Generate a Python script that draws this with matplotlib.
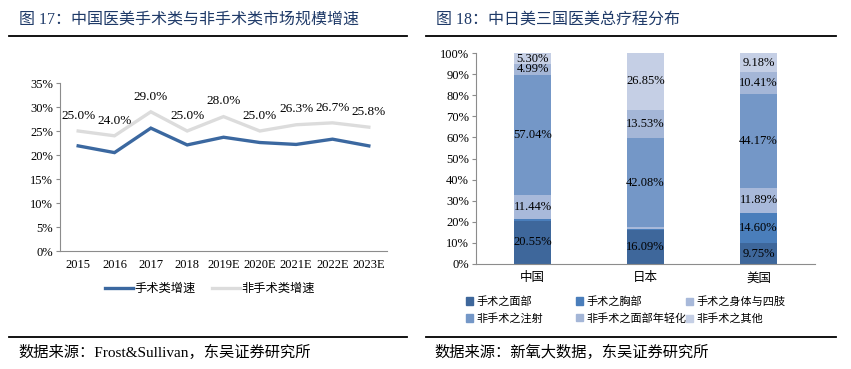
import matplotlib
matplotlib.use("Agg")
import matplotlib.pyplot as plt
from matplotlib.lines import Line2D
from matplotlib.patches import Patch

plt.rcParams['font.family'] = ['Liberation Serif', 'Noto Sans CJK SC']

# ---------------- data ----------------
years = ["2015", "2016", "2017", "2018", "2019E", "2020E", "2021E", "2022E", "2023E"]
surgical = [21.9, 20.5, 25.6, 22.1, 23.7, 22.6, 22.2, 23.3, 21.9]
nonsurgical = [25.0, 24.0, 29.0, 25.0, 28.0, 25.0, 26.3, 26.7, 25.8]
line_names = ["手术类增速", "非手术类增速"]

countries = ["中国", "日本", "美国"]
seg_names = ["手术之面部", "手术之胸部", "手术之身体与四肢",
             "非手术之注射", "非手术之面部年轻化", "非手术之其他"]
seg_values = {
    "手术之面部": [20.55, 16.09, 9.75],
    "手术之胸部": [0.68, 0.45, 14.60],
    "手术之身体与四肢": [11.44, 1.00, 11.89],
    "非手术之注射": [57.04, 42.08, 44.17],
    "非手术之面部年轻化": [4.99, 13.53, 10.41],
    "非手术之其他": [5.30, 26.85, 9.18],
}
seg_colors = ["#3e679b", "#4a7ebb", "#a8b9da", "#7497c7", "#a4b6d7", "#c5cfe5"]

W, H = 851, 369
fig = plt.figure(figsize=(W / 100, H / 100), dpi=100)

def fx(x):
    return x / W

def fy(y):
    return 1 - y / H

navy = "#1f3a68"

# titles and rules
fig.text(fx(19), fy(20), "图 17：中国医美手术类与非手术类市场规模增速", fontsize=11.5,
         color=navy, va="center", ha="left")
fig.text(fx(436), fy(20), "图 18：中日美三国医美总疗程分布", fontsize=11.5,
         color=navy, va="center", ha="left")
for x0, x1 in [(9, 407), (426, 836)]:
    fig.add_artist(Line2D([fx(x0), fx(x1)], [fy(35.5), fy(35.5)], color="black", lw=1.3))
    fig.add_artist(Line2D([fx(x0), fx(x1)], [fy(337), fy(337)], color="black", lw=1.3))
fig.text(fx(18), fy(352), "数据来源：Frost&Sullivan，东吴证券研究所", fontsize=11,
         va="center", ha="left")
fig.text(fx(434), fy(352), "数据来源：新氧大数据，东吴证券研究所", fontsize=11,
         va="center", ha="left")

# ---------------- left line chart ----------------
ax1 = fig.add_axes([fx(60), fy(251), (387 - 60) / W, (251 - 83) / H])
xs = list(range(len(years)))
l1, = ax1.plot(xs, surgical, color="#3b68a0", lw=2.4, solid_joinstyle="miter")
l2, = ax1.plot(xs, nonsurgical, color="#dcdcdc", lw=2.4, solid_joinstyle="miter")
for x, v in zip(xs, nonsurgical):
    ax1.annotate(f"{v:.1f}%", (x, v), xytext=(0, 11), textcoords="offset points",
                 ha="center", va="center", fontsize=9.5)
ax1.set_xlim(-0.5, len(years) - 0.5)
ax1.set_ylim(0, 35)
ax1.set_yticks(range(0, 36, 5))
ax1.set_yticklabels([f"{t}%" for t in range(0, 36, 5)], fontsize=9)
ax1.set_xticks(xs)
ax1.set_xticklabels(years, fontsize=9)
for s in ["top", "right"]:
    ax1.spines[s].set_visible(False)
for s in ["left", "bottom"]:
    ax1.spines[s].set_color("#8c8c8c")
    ax1.spines[s].set_linewidth(0.8)
ax1.tick_params(axis="y", length=3, color="#8c8c8c", pad=2)
ax1.tick_params(axis="x", length=0, pad=6)
ax1.patch.set_visible(False)
fig.legend([l1, l2], line_names, loc="center", bbox_to_anchor=(fx(210), fy(289)),
           ncol=2, frameon=False, fontsize=8.8, handlelength=2.3, handletextpad=0.1,
           columnspacing=1.3)

# ---------------- right stacked bar chart ----------------
ax2 = fig.add_axes([fx(476), fy(264), (815 - 476) / W, (264 - 53) / H])
bx = list(range(len(countries)))
bottom = [0.0] * len(countries)
handles = []
for name, col in zip(seg_names, seg_colors):
    vals = seg_values[name]
    ax2.bar(bx, vals, bottom=bottom, width=0.33, color=col, edgecolor="none")
    handles.append(Patch(color=col))
    for x, b, v in zip(bx, bottom, vals):
        if v >= 3:
            ax2.text(x, b + v / 2, f"{v:.2f}%", ha="center", va="center", fontsize=9)
    bottom = [b + v for b, v in zip(bottom, vals)]
ax2.set_xlim(-0.5, len(countries) - 0.5)
ax2.set_ylim(0, 100)
ax2.set_yticks(range(0, 101, 10))
ax2.set_yticklabels([f"{t}%" for t in range(0, 101, 10)], fontsize=9)
ax2.set_xticks(bx)
ax2.set_xticklabels(countries, fontsize=9)
for s in ["top", "right"]:
    ax2.spines[s].set_visible(False)
for s in ["left", "bottom"]:
    ax2.spines[s].set_color("#8c8c8c")
    ax2.spines[s].set_linewidth(0.8)
ax2.tick_params(axis="y", length=3, color="#8c8c8c", pad=2)
ax2.tick_params(axis="x", length=0, pad=6)
ax2.patch.set_visible(False)

# legend: three columns placed individually
col_x = [464, 574, 684]
columns = [[0, 3], [1, 4], [2, 5]]
for cx, idxs in zip(col_x, columns):
    fig.legend([handles[i] for i in idxs], [seg_names[i] for i in idxs], loc="upper left",
               bbox_to_anchor=(fx(cx), fy(294)), ncol=1, frameon=False, fontsize=8,
               handlelength=0.6, handleheight=0.6, handletextpad=0.3,
               labelspacing=0.55, borderpad=0.2, borderaxespad=0)

fig.savefig("out.png", dpi=100)
